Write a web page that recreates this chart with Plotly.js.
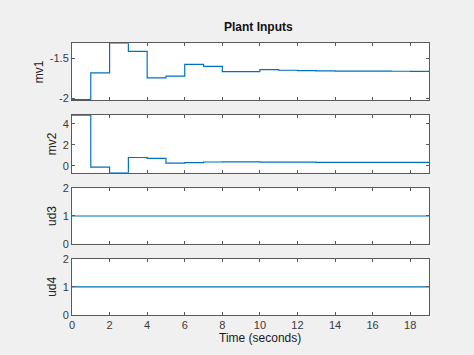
<!DOCTYPE html>
<html>
<head>
<meta charset="utf-8">
<script src="https://cdn.plot.ly/plotly-3.0.1.min.js"></script>
<style>html,body{margin:0;padding:0;background:#f0f0f0;}</style>
</head>
<body>
<div id="chart" style="width:474px;height:355px;"></div>
<script>
// Time grid (seconds) — step (zero-order hold) samples
const time = [0,1,2,3,4,5,6,7,8,9,10,11,12,13,14,15,16,17,18,19];
const mv1 = [-2.02,-1.684,-1.312,-1.414,-1.746,-1.725,-1.577,-1.602,-1.668,-1.668,-1.644,-1.651,-1.657,-1.660,-1.661,-1.662,-1.663,-1.664,-1.665,-1.665];
const mv2 = [4.82,-0.12,-0.66,0.79,0.70,0.25,0.31,0.36,0.38,0.37,0.35,0.34,0.34,0.33,0.33,0.33,0.33,0.33,0.33,0.33];
const ud3 = [1,1,1,1,1,1,1,1,1,1,1,1,1,1,1,1,1,1,1,1];
const ud4 = [1,1,1,1,1,1,1,1,1,1,1,1,1,1,1,1,1,1,1,1];
const seriesNames = ['mv1','mv2','ud3','ud4'];
const xTicks = [0,2,4,6,8,10,12,14,16,18];

const lineColor = '#0072BD';
const axisColor = '#5a5a5a';
const textColor = '#3a3a3a';
const font = 'Liberation Sans, Arial, sans-serif';

const series = [mv1, mv2, ud3, ud4];
const traces = series.map((s, i) => ({
  x: time, y: s, type: 'scatter', mode: 'lines',
  line: {shape: 'hv', color: lineColor, width: 1.2},
  xaxis: i === 0 ? 'x' : 'x' + (i + 1),
  yaxis: i === 0 ? 'y' : 'y' + (i + 1),
  hoverinfo: 'skip', showlegend: false, cliponaxis: false
}));

const domains = [[0.789, 0.999], [0.523, 0.735], [0.260, 0.468], [0.0, 0.207]];
const yRanges = [[-2.03, -1.312], [-0.66, 4.82], [0, 2], [0, 2]];
const yTicks = [[-2, -1.5], [0, 2, 4], [0, 1, 2], [0, 1, 2]];
const yTickText = [['-2', '-1.5'], ['0', '2', '4'], ['0', '1', '2'], ['0', '1', '2']];

const layout = {
  width: 474, height: 355,
  paper_bgcolor: '#f0f0f0', plot_bgcolor: '#ffffff',
  margin: {l: 72, r: 45, t: 43, b: 40},
  font: {family: font, size: 11, color: textColor},
  title: {text: '<b>Plant Inputs</b>', x: 0.545, xanchor: 'center', y: 0.924, yanchor: 'middle',
          font: {family: font, size: 12, color: '#111111'}},
  annotations: [{
    text: 'Time (seconds)', xref: 'paper', yref: 'paper', x: 0.526, y: -0.084,
    xanchor: 'center', yanchor: 'middle', showarrow: false,
    font: {family: font, size: 12, color: '#1a1a1a'}
  }]
};

for (let i = 0; i < 4; i++) {
  const xa = i === 0 ? 'xaxis' : 'xaxis' + (i + 1);
  const ya = i === 0 ? 'yaxis' : 'yaxis' + (i + 1);
  const ax = {
    range: [0, 19], anchor: i === 0 ? 'y' : 'y' + (i + 1),
    tickvals: xTicks, ticktext: xTicks.map(String),
    ticks: 'inside', ticklen: 3, tickcolor: axisColor, tickwidth: 1,
    showline: true, linecolor: axisColor, linewidth: 1, mirror: 'ticks',
    showgrid: false, zeroline: false, fixedrange: true,
    showticklabels: i === 3, tickfont: {size: 11, color: textColor}
  };
  if (i > 0) ax.matches = 'x';
  layout[xa] = ax;
  layout[ya] = {
    domain: domains[i], range: yRanges[i], anchor: i === 0 ? 'x' : 'x' + (i + 1),
    tickvals: yTicks[i], ticktext: yTickText[i],
    ticks: 'inside', ticklen: 3, tickcolor: axisColor, tickwidth: 1,
    showline: true, linecolor: axisColor, linewidth: 1, mirror: 'ticks',
    showgrid: false, zeroline: false, fixedrange: true,
    tickfont: {size: 11, color: textColor},
    title: {text: seriesNames[i], font: {size: 12, color: '#222222'}, standoff: 3}
  };
}

Plotly.newPlot('chart', traces, layout, {displayModeBar: false, staticPlot: true});
</script>
</body>
</html>
